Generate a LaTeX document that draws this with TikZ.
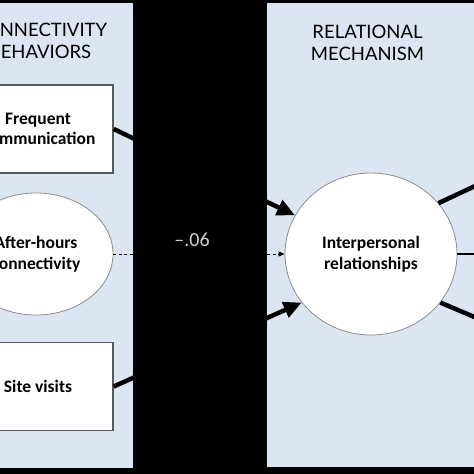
\documentclass[tikz,border=0pt]{standalone}
\usepackage{fontspec}
\setmainfont{Carlito}
\newfontfamily\headfont{Lato}
\usetikzlibrary{arrows.meta,shapes.geometric}
\definecolor{panelblue}{HTML}{DCE6F2}
\definecolor{boxedge}{HTML}{595959}
\definecolor{ovaledge}{HTML}{8C8C8C}
\definecolor{numgray}{HTML}{D0D0D0}
\tikzset{
  panel/.style={fill=panelblue, draw=none},
  heading/.style={font=\headfont\fontsize{18.5}{21.5}\selectfont, align=center, text=black},
  behavbox/.style={rectangle, draw=boxedge, line width=1.4pt, fill=white, minimum width=150pt, minimum height=88pt, font=\bfseries\fontsize{17.5}{20.5}\selectfont, align=center, inner sep=0pt},
  behavoval/.style={ellipse, draw=ovaledge, line width=0.8pt, fill=white, minimum width=154pt, minimum height=122pt, font=\bfseries\fontsize{17.5}{20.5}\selectfont, align=center, inner sep=0pt},
  mechoval/.style={ellipse, draw=ovaledge, line width=0.8pt, fill=white, minimum width=172pt, minimum height=162pt, font=\bfseries\fontsize{17.5}{20.5}\selectfont, align=center, inner sep=0pt},
  strongpath/.style={line width=4.5pt, -{Triangle[length=18pt,width=16pt]}},
  weakpath/.style={line width=0.9pt, dashed, dash pattern=on 3pt off 2.5pt, -{Triangle[length=6pt,width=5pt]}},
  outpath/.style={line width=4.5pt},
  outthin/.style={line width=2pt},
  coef/.style={font=\fontsize{20}{22}\selectfont, text=numgray}
}
\begin{document}
\begin{tikzpicture}[x=1pt,y=-1pt]
\clip (0,0) rectangle (474,474);
\fill[black] (0,0) rectangle (474,474);
\fill[panel] (-5,3) rectangle (133,468);
\fill[panel] (267,3) rectangle (480,467);

\node[heading] (hleft) at (40,41) {CONNECTIVITY\\BEHAVIORS};
\node[heading] (hright) at (367.5,43) {RELATIONAL\\MECHANISM};

\node[behavbox] (freq) at (38,129) {Frequent\\Communication};
\node[behavoval] (after) at (36,254) {After-hours\\connectivity};
\node[behavbox] (site) at (38,386.5) {Site visits};

\node[mechoval] (rel) at (371,254) {Interpersonal\\relationships};

\node[coef] (c06) at (192,240) {–.06};

\coordinate (o1) at (505,172);
\coordinate (o2) at (505,254);
\coordinate (o3) at (505,330);

\draw[strongpath] (freq.east) -- (rel.153);
\draw[weakpath] (after.east) -- (rel.west);
\draw[strongpath] (site.east) -- (rel.215);

\draw[outpath] (rel.37) -- (o1);
\draw[outthin] (rel.east) -- (o2);
\draw[outpath] (rel.-35) -- (o3);
\end{tikzpicture}
\end{document}
